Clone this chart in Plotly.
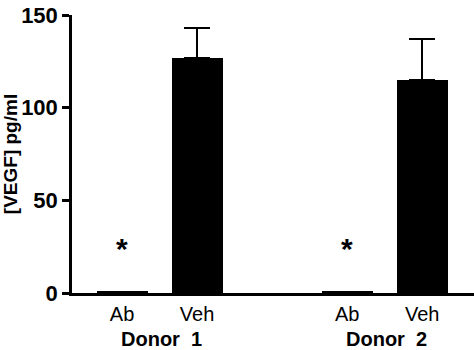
import plotly.graph_objects as go

categories = ["Ab", "Veh", "Ab", "Veh"]
positions = [0, 1, 3, 4]
values = [0.8, 127, 0.8, 115]
errors = [0, 16, 0, 22]
donors = ["Donor  1", "Donor  2"]
donor_pos = [0.53, 3.53]
star_pos = [0, 3]
star_val = [24, 24]
yticks = [0, 50, 100, 150]

fig = go.Figure()
fig.add_trace(go.Bar(
    x=positions, y=values, width=0.68,
    marker=dict(color="black", line=dict(width=0)),
    error_y=dict(type="data", symmetric=False, array=errors,
                 arrayminus=[0] * len(errors), color="black",
                 thickness=2, width=13, visible=True),
    showlegend=False,
))

for xp, yv in zip(star_pos, star_val):
    fig.add_annotation(x=xp, y=yv, text="<b>*</b>", showarrow=False,
                       font=dict(size=30, color="black"), yanchor="middle")

for xp, t in zip(donor_pos, donors):
    fig.add_annotation(x=xp, y=0, yref="y", text="<b>" + t + "</b>",
                       showarrow=False, yshift=-46, yanchor="middle",
                       font=dict(size=20, color="black"))

fig.update_layout(
    width=474, height=350,
    margin=dict(l=72, r=0, t=15, b=57),
    plot_bgcolor="white", paper_bgcolor="white",
    font=dict(family="Liberation Sans, Arial, sans-serif", color="black"),
    bargap=0,
)
fig.update_xaxes(
    range=[-0.667, 4.69], tickvals=positions, ticktext=categories,
    showline=True, linecolor="black", linewidth=2.5,
    ticks="", showgrid=False, zeroline=False,
    tickfont=dict(size=20), ticklabelstandoff=1,
)
fig.update_yaxes(
    range=[0, 150], tickvals=yticks,
    ticktext=["<b>%d</b>" % v for v in yticks],
    showline=True, linecolor="black", linewidth=2.5,
    ticks="outside", ticklen=7, tickwidth=2.5, tickcolor="black",
    showgrid=False, zeroline=False,
    tickfont=dict(size=22),
    title=dict(text="<b>[VEGF] pg/ml</b>", font=dict(size=19), standoff=4),
)

fig.write_html("out.html")
